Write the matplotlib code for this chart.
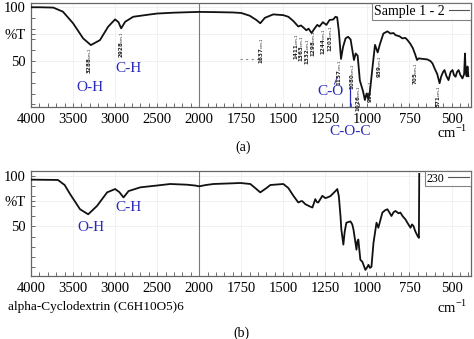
import matplotlib
matplotlib.use('Agg')
import matplotlib.pyplot as plt
import numpy as np
from matplotlib.lines import Line2D
from matplotlib.ticker import FixedLocator

plt.rcParams['font.family'] = ['Liberation Serif', 'DejaVu Serif']

# spectrum (a) Sample 1 - 2
wn_a = [4000, 3900, 3735, 3620, 3500, 3380, 3288, 3180, 3083, 3000, 2960, 2928, 2880, 2785,
        2600, 2500, 2300, 2100, 2000, 1900, 1800, 1750, 1700, 1660, 1637, 1610, 1560, 1500,
        1470, 1440, 1411, 1395, 1380, 1363, 1350, 1332, 1315, 1298, 1285, 1265, 1244, 1225,
        1203, 1190, 1180, 1170, 1157, 1145, 1130, 1115, 1100, 1080, 1070, 1058, 1045, 1026,
        1015, 1005, 995, 985, 970, 955, 939, 925, 905, 881, 863, 845, 833, 810, 792, 775,
        762, 745, 730, 718, 705, 696, 670, 643, 625, 613, 600, 585, 571, 562, 550, 542, 530,
        518, 505, 494, 485, 476, 467, 458, 447, 435, 425, 420, 416, 410, 405, 400]
t_a = [99.8, 99.8, 99.5, 95.7, 85, 71, 64.8, 69.4, 81.8, 88.6, 86, 80.3, 86.4, 91,
       93, 94, 94.8, 95.3, 95.5, 95.3, 95, 94.5, 92, 88, 85, 90, 93.2, 92.5,
       91, 87, 82, 83, 81, 78.5, 80, 76, 80, 83.5, 82, 86, 83.5, 88,
       88.5, 91, 90.5, 78, 52, 63, 71, 72.5, 70, 51, 57, 55, 32, 22,
       14, 20, 15, 22, 44, 65, 58, 66, 75.5, 77.5, 75.5, 76, 74, 73, 71, 71.5,
       69.5, 66, 62, 57, 51, 52.5, 52, 51.5, 50, 47.8, 43, 38, 29.5, 35.5, 40, 41.7, 36,
       32.4, 40, 41.7, 37, 35.5, 40, 41.7, 37, 34, 38, 57, 40, 36, 45, 36]

# spectrum (b) alpha-Cyclodextrin
wn_b = [4000, 3680, 3600, 3535, 3417, 3320, 3215, 3095, 3000, 2950, 2900, 2840, 2700, 2500,
        2345, 2145, 2050, 2000, 1960, 1915, 1798, 1756, 1696, 1660, 1637, 1600, 1577, 1500,
        1470, 1440, 1411, 1395, 1387, 1369, 1345, 1327, 1310, 1300, 1292, 1268, 1250, 1238,
        1220, 1208, 1190, 1179, 1170, 1160, 1155, 1143, 1135, 1125, 1101, 1090, 1083, 1065,
        1060, 1054, 1042, 1030, 1012, 1000, 994, 985, 976, 964, 946, 935, 925, 911, 895, 881,
        870, 857, 845, 833, 815, 804, 790, 774, 760, 744, 735, 726, 715, 700, 694, 692]
t_b = [96.3, 96, 91, 82, 67, 62, 70.3, 83.7, 87, 84, 78.7, 85, 88.7, 90.5,
       92, 91.3, 90.5, 89.7, 91, 92, 92.7, 93, 92, 87, 83.7, 88, 91, 92,
       88, 80.3, 73.7, 75, 75, 72, 70, 68.7, 77, 74, 73.7, 80.3, 78, 78.7,
       80, 82, 85, 87, 80, 60, 47, 32, 45, 53.7, 55, 52, 47, 27,
       35, 37, 17, 15, 7, 10, 12, 9, 10, 33.7, 53.7, 48.7, 55, 63.7, 66, 67,
       64, 60.3, 64, 65.3, 63, 63.7, 60, 57, 53, 48.7, 52, 50.3, 45, 40, 38.7, 102]

# peak annotations for (a): value, where the label sits, top of label (%T)
peaks_a = [3288, 2928, 1637, 1411, 1363, 1332, 1298, 1244, 1203, 1157, 1080, 1026, 995, 939, 705, 571]
label_x = [3300, 2928, 1630, 1422, 1389, 1356, 1322, 1262, 1222, 1165, 1089, 1052, 982, 925, 714, 577]
peak_label_y = [63, 77, 72, 76, 74, 71, 78, 80.5, 83, 51, 48, 28, 32, 55.5, 49, 28]

x_ticks = [4000, 3500, 3000, 2500, 2000, 1750, 1500, 1250, 1000, 750, 500]
x_minor = list(range(4000, 2000, -100)) + list(range(2000, 350, -50))

blue = '#2a2ab8'


# FTIR axis: scale doubles below 2000 cm-1
def fwd(x):
    x = np.asarray(x, dtype=float)
    return np.where(x >= 2000, x, 2 * x - 2000)


def inv(t):
    t = np.asarray(t, dtype=float)
    return np.where(t >= 2000, t, (t + 2000) / 2)


def setup_axes(ax, ylim):
    ax.set_xscale('function', functions=(fwd, inv))
    ax.set_xlim(4000, 385)
    ax.set_ylim(*ylim)
    ax.xaxis.set_major_locator(FixedLocator(x_ticks))
    ax.xaxis.set_minor_locator(FixedLocator(x_minor))
    ax.set_xticklabels([str(v) for v in x_ticks])
    ax.set_yticks([100, 75, 50])
    ax.set_yticklabels(['100', '%T', '50'])
    ax.yaxis.set_minor_locator(FixedLocator(range(10, 101, 10)))
    ax.tick_params(which='both', direction='in', length=3, width=0.6, color='#555',
                   labelsize=10.5, pad=4)
    ax.grid(True, which='major', color='#efefef', lw=0.6)
    ax.axvline(2000, color='#7a7a7a', lw=0.8, zorder=2)
    for s in ax.spines.values():
        s.set_color('#666')
        s.set_linewidth(0.9)


fig = plt.figure(figsize=(4.74, 3.39), dpi=100)
ax1 = fig.add_axes([0.0654, 0.684, 0.928, 0.307])
ax2 = fig.add_axes([0.0654, 0.186, 0.928, 0.310])

setup_axes(ax1, (7.4, 103.7))
setup_axes(ax2, (1, 105))

ax1.plot(wn_a, t_a, color='#111', lw=1.3, zorder=3)
ax2.plot(wn_b, t_b, color='#111', lw=1.3, zorder=3)

for p, lx, y in zip(peaks_a, label_x, peak_label_y):
    ax1.text(lx, y, f'{p}' + r'$_{\mathrm{cm{\text{-}}1}}$', rotation=90, ha='center', va='top',
             fontsize=4.0, fontweight='bold', family='DejaVu Sans', color='#222', zorder=4)

ax1.plot([1756, 1625], [52, 52], color='#888', lw=0.8, ls=(0, (2, 3)))

ax1.text(3297, 26, 'O-H', color=blue, fontsize=11, ha='center', va='center')
ax1.text(2845, 43.5, 'C-H', color=blue, fontsize=11, ha='center', va='center')
ax1.text(1222, 22, 'C-O', color=blue, fontsize=11, ha='center', va='center')
ax1.plot([1196, 1180], [28.7, 34.9], color=blue, lw=0.7)
ax1.plot([1101, 1101], [26, 7.4], color=blue, lw=0.9)
ax1.text(1101, -15, 'C-O-C', color=blue, fontsize=11, ha='center', va='center')

ax2.text(3286, 49, 'O-H', color=blue, fontsize=11, ha='center', va='center')
ax2.text(2845, 69, 'C-H', color=blue, fontsize=11, ha='center', va='center')

h1 = Line2D([], [], color='#555', lw=0.8)
leg1 = ax1.legend([h1], ['Sample 1 - 2'], loc='upper right', borderaxespad=0, markerfirst=False,
                  handlelength=1.4, handletextpad=0.3, borderpad=0.15, fancybox=False,
                  edgecolor='#666', fontsize=10)
leg1.get_frame().set_linewidth(0.8)
h2 = Line2D([], [], color='#555', lw=0.8)
leg2 = ax2.legend([h2], ['230'], loc='upper right', borderaxespad=0, markerfirst=False,
                  handlelength=1.8, handletextpad=0.3, borderpad=0.15, fancybox=False,
                  edgecolor='#666', fontsize=8.5)
leg2.get_frame().set_linewidth(0.8)

fig.text(0.985, 0.61, r'cm$^{\mathregular{-1}}$', ha='right', va='center', fontsize=10.5)
fig.text(0.985, 0.094, r'cm$^{\mathregular{-1}}$', ha='right', va='center', fontsize=10.5)
fig.text(0.513, 0.566, '(a)', ha='center', va='center', fontsize=10)
fig.text(0.51, 0.018, '(b)', ha='center', va='center', fontsize=10)
fig.text(0.017, 0.094, 'alpha-Cyclodextrin (C6H10O5)6', ha='left', va='center', fontsize=9.5)

fig.savefig('out.png', dpi=100, facecolor='white')
